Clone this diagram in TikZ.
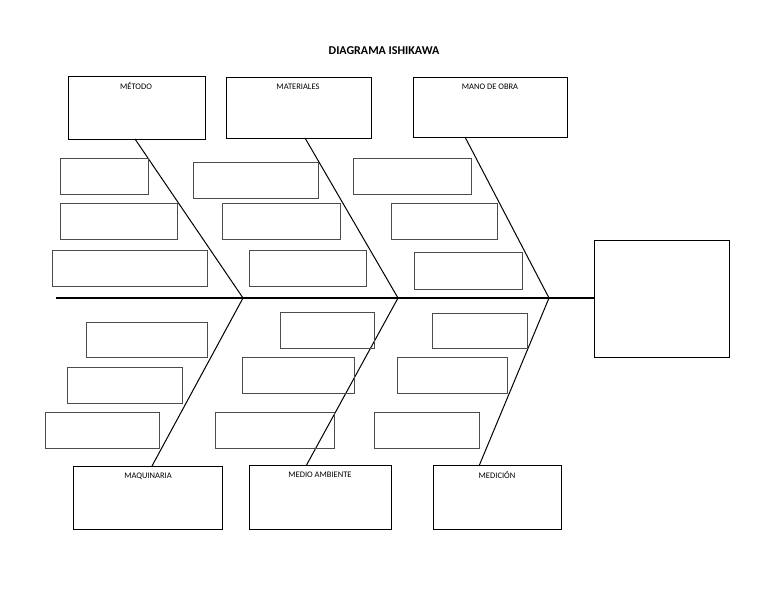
\documentclass[tikz,border=0pt]{standalone}
\usepackage{fontspec}
\setmainfont{Carlito}
\begin{document}
\begin{tikzpicture}[x=1pt,y=-1pt,
  cat/.style={draw,line width=1pt},
  sm/.style={draw=black!70,line width=0.6pt},
  lab/.style={font=\fontsize{8.5}{10}\selectfont,anchor=north},
  bone/.style={line width=1pt}]
\useasboundingbox (0,0) rectangle (768,594);
\node[font=\bfseries\fontsize{12}{14}\selectfont] (title) at (384,51) {DIAGRAMA ISHIKAWA};
% category boxes
\draw[cat] (68,76) rectangle (205,139); \node[lab] (l1) at (136,79) {MÉTODO};
\draw[cat] (226,77) rectangle (371,138); \node[lab] (l2) at (298,80) {MATERIALES};
\draw[cat] (413,77) rectangle (567,137); \node[lab] (l3) at (490,80) {MANO DE OBRA};
\draw[cat] (73,466) rectangle (222,529); \node[lab] (l4) at (148,469) {MAQUINARIA};
\draw[cat] (249,465) rectangle (391,529); \node[lab] (l5) at (320,468) {MEDIO AMBIENTE};
\draw[cat] (433,465) rectangle (561,529); \node[lab] (l6) at (497,468) {MEDICIÓN};
\draw[cat] (594,240) rectangle (729,357);
% spine and bones
\coordinate (s0) at (56,298); \coordinate (s1) at (594,298);
\coordinate (j1) at (243,298); \coordinate (j2) at (398,298); \coordinate (j3) at (549,298);
\draw[line width=2.5pt] (s0) -- (s1);
\draw[bone] (135,139) -- (j1) -- (152,466);
\draw[bone] (305,138) -- (j2) -- (306,466);
\draw[bone] (465,137) -- (j3) -- (479,466);
% small boxes
\foreach \a/\b/\c/\d in {60/158/148/194,60/203/177/239,52/250/207/286,
 193/162/318/198,222/203/340/239,249/250/366/286,
 353/158/471/194,391/203/497/239,414/252/522/289,
 86/322/207/357,67/367/182/403,45/412/159/448,
 280/312/374/348,242/357/354/393,215/412/334/448,
 432/313/527/348,397/357/507/393,374/412/479/448}
 \draw[sm] (\a,\b) rectangle (\c,\d);
\end{tikzpicture}
\end{document}
